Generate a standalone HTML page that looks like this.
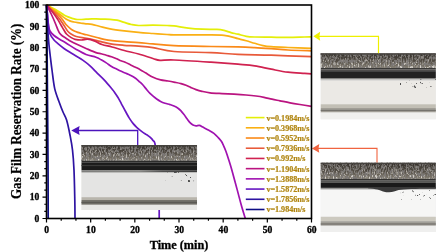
<!DOCTYPE html>
<html><head><meta charset="utf-8">
<style>
html,body{margin:0;padding:0;background:#fff;}
body{width:448px;height:252px;overflow:hidden;position:relative;}
svg{position:absolute;left:0;top:0;}
.ph{position:absolute;overflow:hidden;}
.ph div{position:absolute;left:0;right:0;}
text{font-family:"Liberation Serif","Times New Roman",serif;font-weight:bold;}
</style></head><body>
<svg width="448" height="252" viewBox="0 0 448 252">
<defs>

<filter id="spkL" x="0" y="0" width="100%" height="100%">
<feTurbulence type="fractalNoise" baseFrequency="0.75 0.32" numOctaves="2" seed="5"/>
<feColorMatrix type="matrix" values="0 0 0 0 0.70  0 0 0 0 0.675  0 0 0 0 0.63  5.0 0 0 0 -2.45"/>
<feGaussianBlur stdDeviation="0.3"/>
</filter>
<filter id="spkD" x="0" y="0" width="100%" height="100%">
<feTurbulence type="fractalNoise" baseFrequency="0.6 0.3" numOctaves="2" seed="12"/>
<feColorMatrix type="matrix" values="0 0 0 0 0.2  0 0 0 0 0.19  0 0 0 0 0.18  5.5 0 0 0 -2.5"/>
<feGaussianBlur stdDeviation="0.35"/>
</filter>
<filter id="dots" x="0" y="0" width="100%" height="100%">
<feTurbulence type="fractalNoise" baseFrequency="0.35" numOctaves="2" seed="7"/>
<feColorMatrix type="matrix" values="0 0 0 0 0.08  0 0 0 0 0.08  0 0 0 0 0.08  10 0 0 0 -6.6"/>
</filter>
<linearGradient id="spkG" x1="0" y1="0" x2="0" y2="1">
<stop offset="0" stop-color="#332f2a"/><stop offset="0.5" stop-color="#514b43"/><stop offset="1" stop-color="#868074"/>
</linearGradient>
<linearGradient id="spkM" x1="0" y1="0" x2="0" y2="1">
<stop offset="0" stop-color="#fff" stop-opacity="0.3"/><stop offset="0.5" stop-color="#fff" stop-opacity="0.65"/><stop offset="1" stop-color="#fff" stop-opacity="1"/>
</linearGradient>
<linearGradient id="shadG" x1="0" y1="0" x2="1" y2="0">
<stop offset="0" stop-color="#7e7e7c"/><stop offset="0.5" stop-color="#888886"/><stop offset="0.7" stop-color="#505050"/><stop offset="1" stop-color="#3a3a3a"/>
</linearGradient>
<mask id="spkMask" maskContentUnits="objectBoundingBox"><rect x="0" y="0" width="1" height="1" fill="url(#spkM)"/></mask>

</defs>
<g fill="none">
<path d="M46.70,5.00 C47.42,5.37 49.53,6.43 51.00,7.20 C52.47,7.97 54.00,8.75 55.50,9.60 C57.00,10.45 58.58,11.42 60.00,12.30 C61.42,13.18 62.67,14.13 64.00,14.90 C65.33,15.67 66.67,16.32 68.00,16.90 C69.33,17.48 70.67,18.00 72.00,18.40 C73.33,18.80 74.67,19.12 76.00,19.30 C77.33,19.48 78.33,19.52 80.00,19.50 C81.67,19.48 84.00,19.30 86.00,19.20 C88.00,19.10 90.33,18.94 92.00,18.90 C93.67,18.86 94.17,18.90 96.00,18.93 C97.83,18.97 100.67,19.04 103.00,19.10 C105.33,19.16 107.65,19.12 110.00,19.30 C112.35,19.48 114.72,19.68 117.10,20.20 C119.48,20.72 121.92,21.68 124.30,22.40 C126.68,23.12 129.02,23.98 131.40,24.50 C133.78,25.02 135.02,25.38 138.60,25.50 C142.18,25.62 148.15,25.20 152.90,25.20 C157.65,25.20 163.58,25.38 167.10,25.50 C170.62,25.62 170.47,25.47 174.00,25.90 C177.53,26.33 183.53,27.55 188.30,28.10 C193.07,28.65 197.83,28.98 202.60,29.20 C207.37,29.42 213.33,29.20 216.90,29.40 C220.47,29.60 221.65,29.87 224.00,30.40 C226.35,30.93 228.67,31.97 231.00,32.60 C233.33,33.23 235.45,33.57 238.00,34.20 C240.55,34.83 243.52,35.88 246.30,36.35 C249.08,36.82 250.53,36.86 254.70,37.00 C258.87,37.14 265.75,37.13 271.30,37.20 C276.85,37.27 282.43,37.43 288.00,37.40 C293.57,37.37 300.78,37.08 304.70,37.00 C308.62,36.92 310.37,36.92 311.50,36.90" stroke="#e4ee08" stroke-width="1.7" fill="none" stroke-linejoin="round"/>
<path d="M46.70,5.00 C47.58,5.60 50.28,7.40 52.00,8.60 C53.72,9.80 55.35,10.97 57.00,12.20 C58.65,13.43 60.40,14.87 61.90,16.00 C63.40,17.13 64.68,18.18 66.00,19.00 C67.32,19.82 68.47,20.40 69.80,20.90 C71.13,21.40 72.68,21.70 74.00,22.00 C75.32,22.30 76.37,22.48 77.70,22.70 C79.03,22.92 80.62,23.12 82.00,23.30 C83.38,23.48 84.33,23.62 86.00,23.80 C87.67,23.98 89.67,23.95 92.00,24.40 C94.33,24.85 97.00,25.75 100.00,26.50 C103.00,27.25 105.95,28.17 110.00,28.90 C114.05,29.63 119.53,30.32 124.30,30.90 C129.07,31.48 133.83,31.97 138.60,32.40 C143.37,32.83 148.17,33.15 152.90,33.50 C157.63,33.85 163.48,34.27 167.00,34.50 C170.52,34.73 168.07,34.83 174.00,34.90 C179.93,34.97 194.27,34.83 202.60,34.90 C210.93,34.97 218.10,34.67 224.00,35.30 C229.90,35.93 234.28,37.78 238.00,38.70 C241.72,39.62 243.52,40.03 246.30,40.80 C249.08,41.57 251.92,42.50 254.70,43.30 C257.48,44.10 260.23,45.03 263.00,45.60 C265.77,46.17 267.13,46.38 271.30,46.70 C275.47,47.02 281.30,47.23 288.00,47.50 C294.70,47.77 307.58,48.17 311.50,48.30" stroke="#fab014" stroke-width="1.7" fill="none" stroke-linejoin="round"/>
<path d="M46.70,5.00 C47.58,5.77 50.20,8.10 52.00,9.60 C53.80,11.10 55.83,12.43 57.50,14.00 C59.17,15.57 60.58,17.25 62.00,19.00 C63.42,20.75 64.55,22.87 66.00,24.50 C67.45,26.13 69.32,27.72 70.70,28.80 C72.08,29.88 73.10,30.40 74.30,31.00 C75.50,31.60 76.72,31.98 77.90,32.40 C79.08,32.82 79.95,33.10 81.40,33.50 C82.85,33.90 84.02,34.13 86.60,34.80 C89.18,35.47 94.00,36.76 96.90,37.51 C99.80,38.26 101.48,38.79 104.00,39.30 C106.52,39.81 108.62,40.20 112.00,40.60 C115.38,41.00 119.87,41.37 124.30,41.70 C128.73,42.03 133.83,42.23 138.60,42.60 C143.37,42.97 147.00,43.40 152.90,43.90 C158.80,44.40 164.32,45.17 174.00,45.60 C183.68,46.03 200.33,46.28 211.00,46.50 C221.67,46.72 230.72,46.72 238.00,46.90 C245.28,47.08 249.15,47.30 254.70,47.60 C260.25,47.90 265.75,48.30 271.30,48.70 C276.85,49.10 281.30,49.65 288.00,50.00 C294.70,50.35 307.58,50.67 311.50,50.80" stroke="#fa8a18" stroke-width="1.7" fill="none" stroke-linejoin="round"/>
<path d="M46.70,5.00 C47.42,5.75 49.53,8.00 51.00,9.50 C52.47,11.00 54.00,12.33 55.50,14.00 C57.00,15.67 58.58,17.58 60.00,19.50 C61.42,21.42 62.67,23.50 64.00,25.50 C65.33,27.50 66.80,30.08 68.00,31.50 C69.20,32.92 69.82,33.17 71.20,34.00 C72.58,34.83 73.73,35.77 76.30,36.50 C78.87,37.23 83.17,37.71 86.60,38.40 C90.03,39.09 94.00,39.95 96.90,40.61 C99.80,41.28 101.48,41.80 104.00,42.40 C106.52,43.00 108.67,43.72 112.00,44.20 C115.33,44.68 119.57,44.97 124.00,45.30 C128.43,45.63 133.78,45.82 138.60,46.20 C143.42,46.58 147.00,46.72 152.90,47.60 C158.80,48.48 164.32,50.67 174.00,51.50 C183.68,52.33 200.33,52.12 211.00,52.60 C221.67,53.08 227.95,53.97 238.00,54.40 C248.05,54.83 259.05,54.82 271.30,55.20 C283.55,55.58 304.80,56.45 311.50,56.70" stroke="#e85a3a" stroke-width="1.7" fill="none" stroke-linejoin="round"/>
<path d="M46.70,5.00 C47.33,5.75 49.28,8.00 50.50,9.50 C51.72,11.00 52.83,12.42 54.00,14.00 C55.17,15.58 56.33,17.17 57.50,19.00 C58.67,20.83 59.93,23.17 61.00,25.00 C62.07,26.83 62.98,28.50 63.90,30.00 C64.82,31.50 65.28,32.73 66.50,34.00 C67.72,35.27 69.78,36.72 71.20,37.60 C72.62,38.48 73.28,38.90 75.00,39.30 C76.72,39.70 79.40,40.02 81.50,40.00 C83.60,39.98 85.37,39.01 87.60,39.20 C89.83,39.39 92.50,40.26 94.90,41.14 C97.30,42.03 99.15,43.52 102.00,44.50 C104.85,45.48 108.28,46.00 112.00,47.00 C115.72,48.00 119.87,49.33 124.30,50.50 C128.73,51.67 133.83,52.67 138.60,54.00 C143.37,55.33 149.33,57.45 152.90,58.50 C156.47,59.55 156.48,60.05 160.00,60.30 C163.52,60.55 165.50,59.68 174.00,60.00 C182.50,60.32 200.33,61.50 211.00,62.20 C221.67,62.90 230.72,63.60 238.00,64.20 C245.28,64.80 249.15,64.97 254.70,65.80 C260.25,66.63 265.75,68.13 271.30,69.20 C276.85,70.27 282.43,71.52 288.00,72.20 C293.57,72.88 300.78,73.03 304.70,73.30 C308.62,73.57 310.37,73.72 311.50,73.80" stroke="#d02250" stroke-width="1.7" fill="none" stroke-linejoin="round"/>
<path d="M46.70,5.00 C47.08,5.75 48.25,8.00 49.00,9.50 C49.75,11.00 50.45,12.42 51.20,14.00 C51.95,15.58 52.70,17.17 53.50,19.00 C54.30,20.83 55.25,23.17 56.00,25.00 C56.75,26.83 57.35,28.57 58.00,30.00 C58.65,31.43 59.15,32.60 59.90,33.60 C60.65,34.60 61.48,35.23 62.50,36.00 C63.52,36.77 64.55,37.28 66.00,38.20 C67.45,39.12 69.48,40.52 71.20,41.50 C72.92,42.48 73.73,42.90 76.30,44.10 C78.87,45.30 83.32,47.28 86.60,48.70 C89.88,50.12 93.57,51.77 96.00,52.60 C98.43,53.43 99.48,53.27 101.20,53.70 C102.92,54.13 104.58,54.68 106.30,55.20 C108.02,55.72 109.78,56.20 111.50,56.80 C113.22,57.40 115.18,58.18 116.60,58.80 C118.02,59.42 118.57,59.92 120.00,60.50 C121.43,61.08 123.48,61.58 125.20,62.30 C126.92,63.02 128.58,63.97 130.30,64.80 C132.02,65.63 133.78,66.45 135.50,67.30 C137.22,68.15 138.93,68.98 140.60,69.90 C142.27,70.82 143.42,71.57 145.50,72.80 C147.58,74.03 150.58,76.12 153.10,77.30 C155.62,78.48 158.12,79.28 160.60,79.90 C163.08,80.52 165.60,80.60 168.00,81.00 C170.40,81.40 172.83,81.87 175.00,82.30 C177.17,82.73 179.17,83.10 181.00,83.60 C182.83,84.10 184.33,84.63 186.00,85.30 C187.67,85.97 189.33,86.88 191.00,87.60 C192.67,88.32 194.17,88.98 196.00,89.60 C197.83,90.22 199.67,90.77 202.00,91.30 C204.33,91.83 206.67,92.42 210.00,92.80 C213.33,93.18 218.00,93.37 222.00,93.60 C226.00,93.83 230.00,93.97 234.00,94.20 C238.00,94.43 242.33,94.70 246.00,95.00 C249.67,95.30 253.00,95.62 256.00,96.00 C259.00,96.38 261.33,96.77 264.00,97.30 C266.67,97.83 269.33,98.62 272.00,99.20 C274.67,99.78 277.00,100.20 280.00,100.80 C283.00,101.40 286.67,102.18 290.00,102.80 C293.33,103.42 296.42,103.92 300.00,104.50 C303.58,105.08 309.58,106.00 311.50,106.30" stroke="#ba1480" stroke-width="1.7" fill="none" stroke-linejoin="round"/>
<path d="M46.50,5.00 C46.67,6.67 47.17,11.67 47.50,15.00 C47.83,18.33 48.08,22.33 48.50,25.00 C48.92,27.67 49.08,29.25 50.00,31.00 C50.92,32.75 52.33,34.08 54.00,35.50 C55.67,36.92 58.00,38.25 60.00,39.50 C62.00,40.75 63.28,41.34 66.00,43.00 C68.72,44.66 72.97,47.54 76.30,49.46 C79.63,51.38 82.72,53.21 86.00,54.50 C89.28,55.79 93.47,56.32 96.00,57.20 C98.53,58.08 99.48,58.85 101.20,59.80 C102.92,60.75 104.58,61.80 106.30,62.90 C108.02,64.00 109.78,65.37 111.50,66.40 C113.22,67.43 115.18,68.37 116.60,69.10 C118.02,69.83 118.57,70.15 120.00,70.80 C121.43,71.45 123.48,72.27 125.20,73.00 C126.92,73.73 128.58,74.33 130.30,75.20 C132.02,76.07 134.05,77.18 135.50,78.20 C136.95,79.22 137.83,80.25 139.00,81.30 C140.17,82.35 141.17,83.05 142.50,84.50 C143.83,85.95 145.75,88.52 147.00,90.00 C148.25,91.48 148.98,92.37 150.00,93.40 C151.02,94.43 151.98,95.27 153.10,96.20 C154.22,97.13 155.45,98.13 156.70,99.00 C157.95,99.87 159.22,100.70 160.60,101.40 C161.98,102.10 163.43,102.67 165.00,103.20 C166.57,103.73 168.50,104.13 170.00,104.60 C171.50,105.07 172.67,105.40 174.00,106.00 C175.33,106.60 176.83,107.40 178.00,108.20 C179.17,109.00 180.00,109.73 181.00,110.80 C182.00,111.87 183.00,113.28 184.00,114.60 C185.00,115.92 186.00,117.37 187.00,118.70 C188.00,120.03 189.00,121.55 190.00,122.60 C191.00,123.65 192.00,124.47 193.00,125.00 C194.00,125.53 194.93,125.73 196.00,125.80 C197.07,125.87 198.28,125.18 199.40,125.40 C200.52,125.62 201.22,126.33 202.70,127.10 C204.18,127.87 206.43,128.97 208.30,130.00 C210.17,131.03 212.22,132.00 213.90,133.30 C215.58,134.60 217.13,136.43 218.40,137.80 C219.67,139.17 220.65,140.22 221.50,141.50 C222.35,142.78 222.78,143.92 223.50,145.50 C224.22,147.08 224.92,148.58 225.80,151.00 C226.68,153.42 227.82,156.90 228.80,160.00 C229.78,163.10 230.32,164.70 231.70,169.60 C233.08,174.50 235.48,183.42 237.10,189.40 C238.72,195.38 240.03,200.65 241.40,205.50 C242.77,210.35 244.65,216.33 245.30,218.50" stroke="#a012b0" stroke-width="1.7" fill="none" stroke-linejoin="round"/>
<path d="M46.50,5.00 C46.67,6.67 47.17,11.33 47.50,15.00 C47.83,18.67 48.08,23.83 48.50,27.00 C48.92,30.17 49.08,31.83 50.00,34.00 C50.92,36.17 52.68,38.40 54.00,40.00 C55.32,41.60 56.23,42.18 57.90,43.60 C59.57,45.02 61.73,46.88 64.00,48.50 C66.27,50.12 69.50,52.03 71.50,53.30 C73.50,54.57 74.07,54.92 76.00,56.10 C77.93,57.28 80.72,58.73 83.10,60.40 C85.48,62.07 87.92,63.95 90.30,66.10 C92.68,68.25 95.02,70.92 97.40,73.30 C99.78,75.68 102.17,77.78 104.60,80.40 C107.03,83.02 110.38,87.08 112.00,89.00 C113.62,90.92 113.30,90.48 114.30,91.90 C115.30,93.32 116.82,95.52 118.00,97.50 C119.18,99.48 120.18,101.55 121.40,103.80 C122.62,106.05 123.98,108.62 125.30,111.00 C126.62,113.38 127.98,116.00 129.30,118.10 C130.62,120.20 131.92,122.02 133.20,123.60 C134.48,125.18 135.87,126.50 137.00,127.60 C138.13,128.70 139.02,129.40 140.00,130.20 C140.98,131.00 141.82,131.67 142.90,132.40 C143.98,133.13 145.32,133.80 146.50,134.60 C147.68,135.40 148.92,136.22 150.00,137.20 C151.08,138.18 152.12,139.12 153.00,140.50 C153.88,141.88 154.43,139.75 155.30,145.50 C156.17,151.25 157.58,166.75 158.20,175.00 C158.82,183.25 158.83,189.17 159.00,195.00 C159.17,200.83 159.17,206.08 159.20,210.00 C159.23,213.92 159.20,217.08 159.20,218.50" stroke="#6616c2" stroke-width="1.7" fill="none" stroke-linejoin="round"/>
<path d="M46.50,5.00 C46.58,6.67 46.78,10.83 47.00,15.00 C47.22,19.17 47.47,25.00 47.80,30.00 C48.13,35.00 48.55,40.33 49.00,45.00 C49.45,49.67 50.00,53.83 50.50,58.00 C51.00,62.17 51.30,64.90 52.00,70.00 C52.70,75.10 53.45,83.10 54.70,88.60 C55.95,94.10 58.12,99.10 59.50,103.00 C60.88,106.90 61.82,109.17 63.00,112.00 C64.18,114.83 65.43,116.17 66.60,120.00 C67.77,123.83 69.02,130.00 70.00,135.00 C70.98,140.00 71.83,144.17 72.50,150.00 C73.17,155.83 73.62,161.67 74.00,170.00 C74.38,178.33 74.63,191.92 74.80,200.00 C74.97,208.08 74.97,215.42 75.00,218.50" stroke="#2e14a2" stroke-width="1.7" fill="none" stroke-linejoin="round"/>
<path d="M46.50,5.00 C46.58,10.83 46.83,24.17 47.00,40.00 C47.17,55.83 47.33,80.00 47.50,100.00 C47.67,120.00 47.88,140.25 48.00,160.00 C48.12,179.75 48.17,208.75 48.20,218.50" stroke="#0e0e84" stroke-width="1.7" fill="none" stroke-linejoin="round"/>
</g>
<clipPath id="cp3"><rect x="81.3" y="145" width="115.8" height="65"/></clipPath>
<g clip-path="url(#cp3)">
<rect x="81.3" y="145" width="115.8" height="65" fill="#ebebe9"/>
<rect x="81.3" y="145" width="115.8" height="15.7" fill="url(#spkG)"/>
<rect x="81.3" y="145" width="115.8" height="15.7" fill="#fff" filter="url(#spkL)" mask="url(#spkMask)"/>
<rect x="81.3" y="145" width="115.8" height="15.7" fill="#000" filter="url(#spkD)"/>
<rect x="81.3" y="145" width="115.8" height="1.5" fill="#45423e"/>
<rect x="81.3" y="160.70" width="115.8" height="2.00" fill="#2c2c2b"/>
<rect x="81.3" y="162.70" width="115.8" height="7.50" fill="#1b1b1b"/>
<rect x="81.3" y="164.90" width="115.8" height="1.20" fill="#3a3a39"/>
<rect x="81.3" y="170.20" width="115.8" height="1.80" fill="url(#shadG)"/>
<rect x="81.3" y="172.00" width="115.8" height="1.00" fill="#bdbdbb"/>
<rect x="81.3" y="173.00" width="115.8" height="24.20" fill="#e4e4e3"/>
<rect x="81.3" y="197.20" width="115.8" height="2.80" fill="#b8b5ac"/>
<rect x="81.3" y="200.00" width="115.8" height="4.80" fill="#74726b"/>
<rect x="81.3" y="201.80" width="115.8" height="1.40" fill="#5c5a55"/>
<rect x="81.3" y="204.80" width="115.8" height="5.20" fill="#e8e8e6"/>
<rect x="165" y="172" width="32" height="10" fill="#000" filter="url(#dots)"/>
</g>
<clipPath id="cp1"><rect x="320.5" y="53.2" width="115.4" height="66.2"/></clipPath>
<g clip-path="url(#cp1)">
<rect x="320.5" y="53.2" width="115.4" height="66.2" fill="#ebebe9"/>
<rect x="320.5" y="53.2" width="115.4" height="14.8" fill="url(#spkG)"/>
<rect x="320.5" y="53.2" width="115.4" height="14.8" fill="#fff" filter="url(#spkL)" mask="url(#spkMask)"/>
<rect x="320.5" y="53.2" width="115.4" height="14.8" fill="#000" filter="url(#spkD)"/>
<rect x="320.5" y="53.2" width="115.4" height="1.5" fill="#45423e"/>
<rect x="320.5" y="68.00" width="115.4" height="1.60" fill="#3a3937"/>
<rect x="320.5" y="69.60" width="115.4" height="1.60" fill="#4e4d4c"/>
<rect x="320.5" y="71.20" width="115.4" height="6.80" fill="#222222"/>
<rect x="320.5" y="78.00" width="115.4" height="1.40" fill="#858583"/>
<rect x="320.5" y="79.40" width="115.4" height="1.20" fill="#c4c4c2"/>
<rect x="320.5" y="80.60" width="115.4" height="23.70" fill="#ebe9e5"/>
<rect x="320.5" y="104.30" width="115.4" height="3.70" fill="#c2bfb5"/>
<rect x="320.5" y="108.00" width="115.4" height="4.50" fill="#a19e96"/>
<rect x="320.5" y="109.80" width="115.4" height="1.20" fill="#75736d"/>
<rect x="320.5" y="112.50" width="115.4" height="6.90" fill="#f0f0ee"/>
<rect x="400" y="79" width="36" height="10" fill="#000" filter="url(#dots)"/>
</g>
<clipPath id="cp2"><rect x="320.5" y="162.6" width="115.4" height="69.4"/></clipPath>
<g clip-path="url(#cp2)">
<rect x="320.5" y="162.6" width="115.4" height="69.4" fill="#ebebe9"/>
<rect x="320.5" y="162.6" width="115.4" height="16.3" fill="url(#spkG)"/>
<rect x="320.5" y="162.6" width="115.4" height="16.3" fill="#fff" filter="url(#spkL)" mask="url(#spkMask)"/>
<rect x="320.5" y="162.6" width="115.4" height="16.3" fill="#000" filter="url(#spkD)"/>
<rect x="320.5" y="162.6" width="115.4" height="1.5" fill="#45423e"/>
<rect x="320.5" y="178.90" width="115.4" height="1.80" fill="#353432"/>
<rect x="320.5" y="180.70" width="115.4" height="2.20" fill="#575755"/>
<rect x="320.5" y="182.90" width="115.4" height="4.10" fill="#1a1a1a"/>
<rect x="320.5" y="187.00" width="115.4" height="1.20" fill="#3c3c3c"/>
<rect x="320.5" y="188.20" width="115.4" height="1.00" fill="#8a8a88"/>
<rect x="320.5" y="189.20" width="115.4" height="0.80" fill="#cfcfcd"/>
<rect x="320.5" y="190.00" width="115.4" height="26.80" fill="#f6f6f5"/>
<rect x="320.5" y="216.80" width="115.4" height="4.40" fill="#ccc9bf"/>
<rect x="320.5" y="221.20" width="115.4" height="4.60" fill="#a19f98"/>
<rect x="320.5" y="223.40" width="115.4" height="1.20" fill="#72706b"/>
<rect x="320.5" y="225.80" width="115.4" height="6.20" fill="#efefee"/>
<path d="M368,186.9 L436.5,186.9 L436.5,188.7 L420,188.8 C414,189 408,189.2 404,189.6 C400,189.8 397,190.2 394,191.6 C391,192.6 387,192.6 383,191.4 C380,190.2 376,188.9 368,188.3 Z" fill="#3a3a3a"/><rect x="398" y="190" width="38" height="10" fill="#000" filter="url(#dots)"/>
</g>
<!-- arrows -->
<path d="M378.5,53.2 V36.3 H319" stroke="#eef000" stroke-width="1.2" fill="none"/>
<path d="M313.3,36.3 L320.2,31.8 L319.4,36.3 L320.2,40.8 Z" fill="#eef000"/>
<path d="M377,162.6 V148.4 H318" stroke="#f06440" stroke-width="1.1" fill="none"/>
<path d="M311.9,148.4 L319.3,144 L318.5,148.4 L319.3,152.8 Z" fill="#f06440"/>
<path d="M137.7,145 V130.5 H78" stroke="#4c14bc" stroke-width="1.3" fill="none"/>
<path d="M71.3,130.5 L79.6,125.9 L78.8,130.5 L79.6,135.1 Z" fill="#4c14bc"/>
<!-- frame -->
<rect x="46.5" y="5" width="265" height="213.5" fill="none" stroke="#000" stroke-width="1.6"/>
<path d="M42.50,218.50 H46.5 M44.30,211.38 H46.5 M44.30,204.27 H46.5 M42.50,197.15 H46.5 M44.30,190.03 H46.5 M44.30,182.92 H46.5 M42.50,175.80 H46.5 M44.30,168.68 H46.5 M44.30,161.57 H46.5 M42.50,154.45 H46.5 M44.30,147.33 H46.5 M44.30,140.22 H46.5 M42.50,133.10 H46.5 M44.30,125.98 H46.5 M44.30,118.87 H46.5 M42.50,111.75 H46.5 M44.30,104.63 H46.5 M44.30,97.52 H46.5 M42.50,90.40 H46.5 M44.30,83.28 H46.5 M44.30,76.17 H46.5 M42.50,69.05 H46.5 M44.30,61.93 H46.5 M44.30,54.82 H46.5 M42.50,47.70 H46.5 M44.30,40.58 H46.5 M44.30,33.47 H46.5 M42.50,26.35 H46.5 M44.30,19.23 H46.5 M44.30,12.12 H46.5 M42.50,5.00 H46.5 M46.50,218.5 V222.50 M61.22,218.5 V220.70 M75.94,218.5 V220.70 M90.67,218.5 V222.50 M105.39,218.5 V220.70 M120.11,218.5 V220.70 M134.83,218.5 V222.50 M149.56,218.5 V220.70 M164.28,218.5 V220.70 M179.00,218.5 V222.50 M193.72,218.5 V220.70 M208.44,218.5 V220.70 M223.17,218.5 V222.50 M237.89,218.5 V220.70 M252.61,218.5 V220.70 M267.33,218.5 V222.50 M282.06,218.5 V220.70 M296.78,218.5 V220.70 M311.50,218.5 V222.50" stroke="#000" stroke-width="1.2" fill="none"/>
<g font-size="9.6" fill="#000" stroke="#000" stroke-width="0.32">
<text x="39.3" y="221.7" text-anchor="end">0</text>
<text x="39.3" y="200.3" text-anchor="end">10</text>
<text x="39.3" y="179.0" text-anchor="end">20</text>
<text x="39.3" y="157.6" text-anchor="end">30</text>
<text x="39.3" y="136.3" text-anchor="end">40</text>
<text x="39.3" y="115.0" text-anchor="end">50</text>
<text x="39.3" y="93.6" text-anchor="end">60</text>
<text x="39.3" y="72.3" text-anchor="end">70</text>
<text x="39.3" y="50.9" text-anchor="end">80</text>
<text x="39.3" y="29.5" text-anchor="end">90</text>
<text x="39.3" y="8.2" text-anchor="end">100</text>
<text x="46.7" y="233.1" text-anchor="middle">0</text>
<text x="90.9" y="233.1" text-anchor="middle">10</text>
<text x="135.0" y="233.1" text-anchor="middle">20</text>
<text x="179.2" y="233.1" text-anchor="middle">30</text>
<text x="223.4" y="233.1" text-anchor="middle">40</text>
<text x="267.5" y="233.1" text-anchor="middle">50</text>
<text x="311.7" y="233.1" text-anchor="middle">60</text>
</g>
<g font-size="8.1" fill="#b08612" stroke="#b08612" stroke-width="0.2">
<path d="M245.8,117.60 H264.5" stroke="#e4ee08" stroke-width="1.6"/>
<text x="266.4" y="120.60">v=0.1984m/s</text>
<path d="M245.8,127.81 H264.5" stroke="#fab014" stroke-width="1.6"/>
<text x="266.4" y="130.81">v=0.3968m/s</text>
<path d="M245.8,138.02 H264.5" stroke="#fa8a18" stroke-width="1.6"/>
<text x="266.4" y="141.02">v=0.5952m/s</text>
<path d="M245.8,148.23 H264.5" stroke="#e85a3a" stroke-width="1.6"/>
<text x="266.4" y="151.23">v=0.7936m/s</text>
<path d="M245.8,158.44 H264.5" stroke="#d02250" stroke-width="1.6"/>
<text x="266.4" y="161.44">v=0.992m/s</text>
<path d="M245.8,168.65 H264.5" stroke="#ba1480" stroke-width="1.6"/>
<text x="266.4" y="171.65">v=1.1904m/s</text>
<path d="M245.8,178.86 H264.5" stroke="#a012b0" stroke-width="1.6"/>
<text x="266.4" y="181.86">v=1.3888m/s</text>
<path d="M245.8,189.07 H264.5" stroke="#6616c2" stroke-width="1.6"/>
<text x="266.4" y="192.07">v=1.5872m/s</text>
<path d="M245.8,199.28 H264.5" stroke="#2e14a2" stroke-width="1.6"/>
<text x="266.4" y="202.28">v=1.7856m/s</text>
<path d="M245.8,209.49 H264.5" stroke="#0e0e84" stroke-width="1.6"/>
<text x="266.4" y="212.49">v=1.984m/s</text>
</g>
<text x="179" y="248.7" font-size="12" text-anchor="middle" fill="#000" stroke="#000" stroke-width="0.3" textLength="58.6" lengthAdjust="spacingAndGlyphs">Time (min)</text>
<text transform="translate(21,111.3) rotate(-90)" font-size="14" text-anchor="middle" fill="#000" stroke="#000" stroke-width="0.2" textLength="175.5" lengthAdjust="spacingAndGlyphs">Gas Film Reservation Rate (%)</text>
</svg>
</body></html>
